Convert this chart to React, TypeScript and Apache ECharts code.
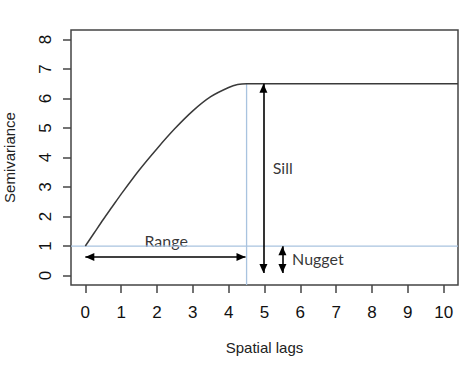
import React, { useEffect, useRef } from "react";
import * as echarts from "echarts";

// ---- data ----
const xTicks = [0, 1, 2, 3, 4, 5, 6, 7, 8, 9, 10];
const yTicks = [0, 1, 2, 3, 4, 5, 6, 7, 8];
const xRange = [-0.4, 10.4];
const yRange = [-0.32, 8.32];

const lags = [0, 0.25, 0.5, 0.75, 1, 1.5, 2, 2.5, 3, 3.5, 4, 4.25, 4.5, 10.4];
const semivariance = [1.0, 1.45, 1.9, 2.33, 2.76, 3.57, 4.3, 4.98, 5.58, 6.06, 6.37, 6.47, 6.5, 6.5];

const nuggetLevel = 1;
const sillLevel = 6.5;
const rangeLag = 4.5;

const rangeArrow = [[0, 0.63], [4.47, 0.63]];
const sillArrow = [[4.97, 6.5], [4.97, 0.09]];
const nuggetArrow = [[5.5, 0.99], [5.5, 0.09]];

const annotationTexts = ["Range", "Sill", "Nugget"];
const annotationX = [1.65, 5.23, 5.77];
const annotationY = [1.2, 3.67, 0.58];

const AXIS_FONT = "'Liberation Sans', Arial, sans-serif";
const NOTE_FONT = "Lato, 'Open Sans', sans-serif";

export default function App() {
  const ref = useRef<HTMLDivElement>(null);

  useEffect(() => {
    document.body.style.margin = "0";
    if (!ref.current) return;
    const chart = echarts.init(ref.current, undefined, { renderer: "svg" });

    const arrowLine = (pts: number[][]) => [
      { coord: pts[0] },
      { coord: pts[1] },
    ];

    chart.setOption({
      animation: false,
      backgroundColor: "#ffffff",
      grid: {
        left: 71,
        right: 16,
        top: 30,
        bottom: 86,
        containLabel: false,
        outerBoundsMode: "none",
        show: true,
        borderColor: "#444444",
        borderWidth: 1.5,
        backgroundColor: "transparent",
      },
      xAxis: {
        type: "value",
        min: xRange[0],
        max: xRange[1],
        name: "Spatial lags",
        nameLocation: "middle",
        nameGap: 55,
        nameTextStyle: { fontFamily: AXIS_FONT, fontSize: 15, color: "#222" },
        axisLine: { show: false, onZero: false },
        splitLine: { show: false },
        axisTick: {
          show: true,
          inside: false,
          length: 8,
          customValues: xTicks,
          lineStyle: { color: "#444", width: 1.5 },
        },
        axisLabel: {
          customValues: xTicks,
          margin: 19,
          fontFamily: AXIS_FONT,
          fontSize: 17,
          color: "#111",
        },
      },
      yAxis: {
        type: "value",
        min: yRange[0],
        max: yRange[1],
        name: "Semivariance",
        nameLocation: "middle",
        nameGap: 54,
        nameTextStyle: { fontFamily: AXIS_FONT, fontSize: 15, color: "#222" },
        axisLine: { show: false, onZero: false },
        splitLine: { show: false },
        axisTick: {
          show: true,
          inside: false,
          length: 8,
          customValues: yTicks,
          lineStyle: { color: "#444", width: 1.5 },
        },
        axisLabel: {
          customValues: yTicks,
          rotate: 90,
          margin: 17,
          fontFamily: AXIS_FONT,
          fontSize: 17,
          color: "#111",
        },
      },
      series: [
        {
          name: "nugget line",
          type: "line",
          data: [
            [xRange[0], nuggetLevel],
            [xRange[1], nuggetLevel],
          ],
          showSymbol: false,
          silent: true,
          lineStyle: { color: "#a9c3df", width: 1.3 },
        },
        {
          name: "range line",
          type: "line",
          data: [
            [rangeLag, yRange[0]],
            [rangeLag, sillLevel],
          ],
          showSymbol: false,
          silent: true,
          lineStyle: { color: "#a9c3df", width: 1.3 },
        },
        {
          name: "variogram",
          type: "line",
          data: lags.map((h, i) => [h, semivariance[i]]),
          showSymbol: false,
          smooth: 0.3,
          lineStyle: { color: "#3a3a3a", width: 1.5 },
        },
        {
          name: "arrows",
          type: "line",
          data: [],
          markLine: {
            silent: true,
            symbol: ["triangle", "triangle"],
            symbolSize: [8, 9],
            symbolOffset: [[0, 4.5], [0, 4.5]],
            label: { show: false },
            lineStyle: { color: "#000", width: 1.6, type: "solid" },
            data: [arrowLine(rangeArrow), arrowLine(sillArrow), arrowLine(nuggetArrow)],
          },
        },
        {
          name: "notes",
          type: "scatter",
          symbolSize: 0,
          silent: true,
          data: annotationTexts.map((t, i) => [annotationX[i], annotationY[i], t]),
          label: {
            show: true,
            formatter: (p: any) => p.data[2],
            position: "right",
            distance: 0,
            fontFamily: NOTE_FONT,
            fontSize: 16,
            color: "#000",
          },
        },
      ],
    });

    return () => chart.dispose();
  }, []);

  return (
    <div
      ref={ref}
      style={{ position: "fixed", left: 0, top: 0, width: 474, height: 371 }}
    />
  );
}
